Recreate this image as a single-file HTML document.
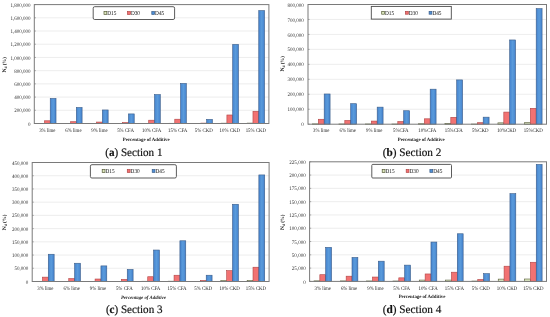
<!DOCTYPE html>
<html><head><meta charset="utf-8"><title>Nd charts</title>
<style>
html,body{margin:0;padding:0;background:#fff;}
body{width:550px;height:317px;overflow:hidden;}
svg{display:block;}
text{font-family:'Liberation Serif', 'Times New Roman', serif;fill:#1a1a1a;text-rendering:geometricPrecision;}
.yl{font-size:5.3px;text-anchor:end;fill:#333;}
.xl{font-size:5.4px;text-anchor:middle;fill:#222;}
.at{font-size:4.85px;font-weight:bold;text-anchor:middle;}
.ati{font-style:italic;}
.yt{font-size:5.6px;font-weight:bold;text-anchor:middle;}
.sub{font-size:3.6px;}
.pc{font-size:5.0px;}
.lg{font-size:6px;fill:#111;}
.cap{font-size:11.4px;fill:#111;stroke:#111;stroke-width:0.18px;}
</style></head>
<body>
<svg width="550" height="317" viewBox="0 0 550 317">
<defs><linearGradient id="gb" x1="0" y1="0" x2="1" y2="0"><stop offset="0" stop-color="#4583cf"/><stop offset="0.5" stop-color="#5a9bdb"/><stop offset="1" stop-color="#4583cf"/></linearGradient></defs>
<rect width="550" height="317" fill="#fff"/>
<line x1="34.3" y1="110.29" x2="268.9" y2="110.29" stroke="#e0e0e0" stroke-width="0.6"/>
<line x1="34.3" y1="97.08" x2="268.9" y2="97.08" stroke="#e0e0e0" stroke-width="0.6"/>
<line x1="34.3" y1="83.87" x2="268.9" y2="83.87" stroke="#e0e0e0" stroke-width="0.6"/>
<line x1="34.3" y1="70.66" x2="268.9" y2="70.66" stroke="#e0e0e0" stroke-width="0.6"/>
<line x1="34.3" y1="57.44" x2="268.9" y2="57.44" stroke="#e0e0e0" stroke-width="0.6"/>
<line x1="34.3" y1="44.23" x2="268.9" y2="44.23" stroke="#e0e0e0" stroke-width="0.6"/>
<line x1="34.3" y1="31.02" x2="268.9" y2="31.02" stroke="#e0e0e0" stroke-width="0.6"/>
<line x1="34.3" y1="17.81" x2="268.9" y2="17.81" stroke="#e0e0e0" stroke-width="0.6"/>
<rect x="38.64" y="123.33" width="5.79" height="0.17" fill="#dde8c0" stroke="#555a35" stroke-width="0.6"/>
<rect x="44.44" y="120.79" width="5.79" height="2.71" fill="#f27272" stroke="#b04444" stroke-width="0.6"/>
<rect x="50.23" y="98.46" width="5.79" height="25.04" fill="url(#gb)" stroke="#3a5c88" stroke-width="0.6"/>
<rect x="64.71" y="123.37" width="5.79" height="0.13" fill="#dde8c0" stroke="#555a35" stroke-width="0.6"/>
<rect x="70.5" y="121.72" width="5.79" height="1.78" fill="#f27272" stroke="#b04444" stroke-width="0.6"/>
<rect x="76.3" y="107.51" width="5.79" height="15.99" fill="url(#gb)" stroke="#3a5c88" stroke-width="0.6"/>
<rect x="90.78" y="123.37" width="5.79" height="0.13" fill="#dde8c0" stroke="#555a35" stroke-width="0.6"/>
<rect x="96.57" y="122.05" width="5.79" height="1.45" fill="#f27272" stroke="#b04444" stroke-width="0.6"/>
<rect x="102.36" y="109.96" width="5.79" height="13.54" fill="url(#gb)" stroke="#3a5c88" stroke-width="0.6"/>
<rect x="116.84" y="123.4" width="5.79" height="0.1" fill="#dde8c0" stroke="#555a35" stroke-width="0.6"/>
<rect x="122.64" y="122.51" width="5.79" height="0.99" fill="#f27272" stroke="#b04444" stroke-width="0.6"/>
<rect x="128.43" y="113.92" width="5.79" height="9.58" fill="url(#gb)" stroke="#3a5c88" stroke-width="0.6"/>
<rect x="142.91" y="123.3" width="5.79" height="0.2" fill="#dde8c0" stroke="#555a35" stroke-width="0.6"/>
<rect x="148.7" y="120.2" width="5.79" height="3.3" fill="#f27272" stroke="#b04444" stroke-width="0.6"/>
<rect x="154.5" y="94.57" width="5.79" height="28.93" fill="url(#gb)" stroke="#3a5c88" stroke-width="0.6"/>
<rect x="168.98" y="123.27" width="5.79" height="0.23" fill="#dde8c0" stroke="#555a35" stroke-width="0.6"/>
<rect x="174.77" y="119.21" width="5.79" height="4.29" fill="#f27272" stroke="#b04444" stroke-width="0.6"/>
<rect x="180.56" y="83.47" width="5.79" height="40.03" fill="url(#gb)" stroke="#3a5c88" stroke-width="0.6"/>
<rect x="195.04" y="123.45" width="5.79" height="0.05" fill="#dde8c0" stroke="#555a35" stroke-width="0.6"/>
<rect x="200.84" y="123.1" width="5.79" height="0.4" fill="#f27272" stroke="#b04444" stroke-width="0.6"/>
<rect x="206.63" y="119.4" width="5.79" height="4.1" fill="url(#gb)" stroke="#3a5c88" stroke-width="0.6"/>
<rect x="221.11" y="123.17" width="5.79" height="0.33" fill="#dde8c0" stroke="#555a35" stroke-width="0.6"/>
<rect x="226.9" y="114.98" width="5.79" height="8.52" fill="#f27272" stroke="#b04444" stroke-width="0.6"/>
<rect x="232.7" y="44.43" width="5.79" height="79.07" fill="url(#gb)" stroke="#3a5c88" stroke-width="0.6"/>
<rect x="247.18" y="123.1" width="5.79" height="0.4" fill="#dde8c0" stroke="#555a35" stroke-width="0.6"/>
<rect x="252.97" y="111.28" width="5.79" height="12.22" fill="#f27272" stroke="#b04444" stroke-width="0.6"/>
<rect x="258.76" y="10.61" width="5.79" height="112.89" fill="url(#gb)" stroke="#3a5c88" stroke-width="0.6"/>
<rect x="34.3" y="4.6" width="234.6" height="118.9" fill="none" stroke="#7a7a7a" stroke-width="1.0"/>
<line x1="34.3" y1="123.5" x2="35.9" y2="123.5" stroke="#7a7a7a" stroke-width="0.6"/>
<line x1="34.3" y1="110.29" x2="35.9" y2="110.29" stroke="#7a7a7a" stroke-width="0.6"/>
<line x1="34.3" y1="97.08" x2="35.9" y2="97.08" stroke="#7a7a7a" stroke-width="0.6"/>
<line x1="34.3" y1="83.87" x2="35.9" y2="83.87" stroke="#7a7a7a" stroke-width="0.6"/>
<line x1="34.3" y1="70.66" x2="35.9" y2="70.66" stroke="#7a7a7a" stroke-width="0.6"/>
<line x1="34.3" y1="57.44" x2="35.9" y2="57.44" stroke="#7a7a7a" stroke-width="0.6"/>
<line x1="34.3" y1="44.23" x2="35.9" y2="44.23" stroke="#7a7a7a" stroke-width="0.6"/>
<line x1="34.3" y1="31.02" x2="35.9" y2="31.02" stroke="#7a7a7a" stroke-width="0.6"/>
<line x1="34.3" y1="17.81" x2="35.9" y2="17.81" stroke="#7a7a7a" stroke-width="0.6"/>
<line x1="34.3" y1="4.6" x2="35.9" y2="4.6" stroke="#7a7a7a" stroke-width="0.6"/>
<text transform="translate(30.6,125.6) scale(0.95,1)" class="yl">0</text>
<text transform="translate(30.6,112.39) scale(0.95,1)" class="yl">200,000</text>
<text transform="translate(30.6,99.18) scale(0.95,1)" class="yl">400,000</text>
<text transform="translate(30.6,85.97) scale(0.95,1)" class="yl">600,000</text>
<text transform="translate(30.6,72.76) scale(0.95,1)" class="yl">800,000</text>
<text transform="translate(30.6,59.54) scale(0.95,1)" class="yl">1,000,000</text>
<text transform="translate(30.6,46.33) scale(0.95,1)" class="yl">1,200,000</text>
<text transform="translate(30.6,33.12) scale(0.95,1)" class="yl">1,400,000</text>
<text transform="translate(30.6,19.91) scale(0.95,1)" class="yl">1,600,000</text>
<text transform="translate(30.6,6.7) scale(0.95,1)" class="yl">1,800,000</text>
<text transform="translate(47.33,132.3) scale(0.9,1)" class="xl">3% lime</text>
<text transform="translate(73.4,132.3) scale(0.9,1)" class="xl">6% lime</text>
<text transform="translate(99.47,132.3) scale(0.9,1)" class="xl">9% lime</text>
<text transform="translate(125.53,132.3) scale(0.9,1)" class="xl">5% CFA</text>
<text transform="translate(151.6,132.3) scale(0.9,1)" class="xl">10% CFA</text>
<text transform="translate(177.67,132.3) scale(0.9,1)" class="xl">15% CFA</text>
<text transform="translate(203.73,132.3) scale(0.9,1)" class="xl">5% CKD</text>
<text transform="translate(229.8,132.3) scale(0.9,1)" class="xl">10% CKD</text>
<text transform="translate(255.87,132.3) scale(0.9,1)" class="xl">15% CKD</text>
<text x="146.2" y="141" class="at">Percentage of Additive</text>
<text transform="translate(6.1,64.8) rotate(-90)" class="yt">N<tspan class="sub" dy="1.2">d</tspan><tspan dy="-1.2" class="pc"> (%)</tspan></text>
<rect x="93.2" y="6.7" width="81.4" height="12.8" rx="1.5" fill="#fff" stroke="#4a4a4a" stroke-width="0.9"/>
<rect x="104" y="11.6" width="2.8" height="2.8" fill="#dde8c0" stroke="#555a35" stroke-width="0.7"/>
<text transform="translate(107.3,15.1) scale(0.88,1)" class="lg">D15</text>
<rect x="127.6" y="11.6" width="2.8" height="2.8" fill="#f27272" stroke="#b04444" stroke-width="0.7"/>
<text transform="translate(130.9,15.1) scale(0.88,1)" class="lg">D30</text>
<rect x="151.8" y="11.6" width="2.8" height="2.8" fill="#4f90d6" stroke="#3a5c88" stroke-width="0.7"/>
<text transform="translate(155.1,15.1) scale(0.88,1)" class="lg">D45</text>
<text x="105.2" y="155.6" class="cap" textLength="57.3" lengthAdjust="spacingAndGlyphs">(<tspan font-weight="bold">a</tspan>) Section 1</text>
<line x1="308" y1="109.24" x2="546.5" y2="109.24" stroke="#e0e0e0" stroke-width="0.6"/>
<line x1="308" y1="94.28" x2="546.5" y2="94.28" stroke="#e0e0e0" stroke-width="0.6"/>
<line x1="308" y1="79.31" x2="546.5" y2="79.31" stroke="#e0e0e0" stroke-width="0.6"/>
<line x1="308" y1="64.35" x2="546.5" y2="64.35" stroke="#e0e0e0" stroke-width="0.6"/>
<line x1="308" y1="49.39" x2="546.5" y2="49.39" stroke="#e0e0e0" stroke-width="0.6"/>
<line x1="308" y1="34.43" x2="546.5" y2="34.43" stroke="#e0e0e0" stroke-width="0.6"/>
<line x1="308" y1="19.46" x2="546.5" y2="19.46" stroke="#e0e0e0" stroke-width="0.6"/>
<rect x="312.42" y="123.9" width="5.89" height="0.3" fill="#dde8c0" stroke="#555a35" stroke-width="0.6"/>
<rect x="318.31" y="119.26" width="5.89" height="4.94" fill="#f27272" stroke="#b04444" stroke-width="0.6"/>
<rect x="324.19" y="93.98" width="5.89" height="30.22" fill="url(#gb)" stroke="#3a5c88" stroke-width="0.6"/>
<rect x="338.92" y="123.98" width="5.89" height="0.22" fill="#dde8c0" stroke="#555a35" stroke-width="0.6"/>
<rect x="344.81" y="120.46" width="5.89" height="3.74" fill="#f27272" stroke="#b04444" stroke-width="0.6"/>
<rect x="350.69" y="103.7" width="5.89" height="20.5" fill="url(#gb)" stroke="#3a5c88" stroke-width="0.6"/>
<rect x="365.42" y="123.98" width="5.89" height="0.22" fill="#dde8c0" stroke="#555a35" stroke-width="0.6"/>
<rect x="371.31" y="121.06" width="5.89" height="3.14" fill="#f27272" stroke="#b04444" stroke-width="0.6"/>
<rect x="377.19" y="107.14" width="5.89" height="17.06" fill="url(#gb)" stroke="#3a5c88" stroke-width="0.6"/>
<rect x="391.92" y="124.02" width="5.89" height="0.18" fill="#dde8c0" stroke="#555a35" stroke-width="0.6"/>
<rect x="397.81" y="121.51" width="5.89" height="2.69" fill="#f27272" stroke="#b04444" stroke-width="0.6"/>
<rect x="403.69" y="110.73" width="5.89" height="13.47" fill="url(#gb)" stroke="#3a5c88" stroke-width="0.6"/>
<rect x="418.42" y="123.75" width="5.89" height="0.45" fill="#dde8c0" stroke="#555a35" stroke-width="0.6"/>
<rect x="424.31" y="118.81" width="5.89" height="5.39" fill="#f27272" stroke="#b04444" stroke-width="0.6"/>
<rect x="430.19" y="89.19" width="5.89" height="35.01" fill="url(#gb)" stroke="#3a5c88" stroke-width="0.6"/>
<rect x="444.92" y="123.68" width="5.89" height="0.52" fill="#dde8c0" stroke="#555a35" stroke-width="0.6"/>
<rect x="450.81" y="117.32" width="5.89" height="6.88" fill="#f27272" stroke="#b04444" stroke-width="0.6"/>
<rect x="456.69" y="79.91" width="5.89" height="44.29" fill="url(#gb)" stroke="#3a5c88" stroke-width="0.6"/>
<rect x="471.42" y="124.05" width="5.89" height="0.15" fill="#dde8c0" stroke="#555a35" stroke-width="0.6"/>
<rect x="477.31" y="122.7" width="5.89" height="1.5" fill="#f27272" stroke="#b04444" stroke-width="0.6"/>
<rect x="483.19" y="117.17" width="5.89" height="7.03" fill="url(#gb)" stroke="#3a5c88" stroke-width="0.6"/>
<rect x="497.92" y="122.85" width="5.89" height="1.35" fill="#dde8c0" stroke="#555a35" stroke-width="0.6"/>
<rect x="503.81" y="112.08" width="5.89" height="12.12" fill="#f27272" stroke="#b04444" stroke-width="0.6"/>
<rect x="509.69" y="39.96" width="5.89" height="84.24" fill="url(#gb)" stroke="#3a5c88" stroke-width="0.6"/>
<rect x="524.42" y="122.7" width="5.89" height="1.5" fill="#dde8c0" stroke="#555a35" stroke-width="0.6"/>
<rect x="530.31" y="108.34" width="5.89" height="15.86" fill="#f27272" stroke="#b04444" stroke-width="0.6"/>
<rect x="536.19" y="8.69" width="5.89" height="115.51" fill="url(#gb)" stroke="#3a5c88" stroke-width="0.6"/>
<rect x="308" y="4.5" width="238.5" height="119.7" fill="none" stroke="#7a7a7a" stroke-width="1.0"/>
<line x1="308" y1="124.2" x2="309.6" y2="124.2" stroke="#7a7a7a" stroke-width="0.6"/>
<line x1="308" y1="109.24" x2="309.6" y2="109.24" stroke="#7a7a7a" stroke-width="0.6"/>
<line x1="308" y1="94.28" x2="309.6" y2="94.28" stroke="#7a7a7a" stroke-width="0.6"/>
<line x1="308" y1="79.31" x2="309.6" y2="79.31" stroke="#7a7a7a" stroke-width="0.6"/>
<line x1="308" y1="64.35" x2="309.6" y2="64.35" stroke="#7a7a7a" stroke-width="0.6"/>
<line x1="308" y1="49.39" x2="309.6" y2="49.39" stroke="#7a7a7a" stroke-width="0.6"/>
<line x1="308" y1="34.43" x2="309.6" y2="34.43" stroke="#7a7a7a" stroke-width="0.6"/>
<line x1="308" y1="19.46" x2="309.6" y2="19.46" stroke="#7a7a7a" stroke-width="0.6"/>
<line x1="308" y1="4.5" x2="309.6" y2="4.5" stroke="#7a7a7a" stroke-width="0.6"/>
<text transform="translate(303.8,126.3) scale(0.95,1)" class="yl">0</text>
<text transform="translate(303.8,111.34) scale(0.95,1)" class="yl">100,000</text>
<text transform="translate(303.8,96.38) scale(0.95,1)" class="yl">200,000</text>
<text transform="translate(303.8,81.41) scale(0.95,1)" class="yl">300,000</text>
<text transform="translate(303.8,66.45) scale(0.95,1)" class="yl">400,000</text>
<text transform="translate(303.8,51.49) scale(0.95,1)" class="yl">500,000</text>
<text transform="translate(303.8,36.53) scale(0.95,1)" class="yl">600,000</text>
<text transform="translate(303.8,21.56) scale(0.95,1)" class="yl">700,000</text>
<text transform="translate(303.8,6.6) scale(0.95,1)" class="yl">800,000</text>
<text transform="translate(321.25,131.7) scale(0.9,1)" class="xl">3% lime</text>
<text transform="translate(347.75,131.7) scale(0.9,1)" class="xl">6% lime</text>
<text transform="translate(374.25,131.7) scale(0.9,1)" class="xl">9% lime</text>
<text transform="translate(400.75,131.7) scale(0.9,1)" class="xl">5%CFA</text>
<text transform="translate(427.25,131.7) scale(0.9,1)" class="xl">10%CFA</text>
<text transform="translate(453.75,131.7) scale(0.9,1)" class="xl">15%CFA</text>
<text transform="translate(480.25,131.7) scale(0.9,1)" class="xl">5%CKD</text>
<text transform="translate(506.75,131.7) scale(0.9,1)" class="xl">10%CKD</text>
<text transform="translate(533.25,131.7) scale(0.9,1)" class="xl">15%CKD</text>
<text x="421.2" y="141.3" class="at">Percentage of Additive</text>
<text transform="translate(283.9,63.8) rotate(-90)" class="yt">N<tspan class="sub" dy="1.2">d</tspan><tspan dy="-1.2" class="pc"> (%)</tspan></text>
<rect x="371.3" y="6.4" width="80" height="12.7" rx="0" fill="#fff" stroke="#4a4a4a" stroke-width="0.9"/>
<rect x="381.7" y="11.4" width="2.8" height="2.8" fill="#dde8c0" stroke="#555a35" stroke-width="0.7"/>
<text transform="translate(385,14.9) scale(0.88,1)" class="lg">D15</text>
<rect x="405.5" y="11.4" width="2.8" height="2.8" fill="#f27272" stroke="#b04444" stroke-width="0.7"/>
<text transform="translate(408.8,14.9) scale(0.88,1)" class="lg">D30</text>
<rect x="429.1" y="11.4" width="2.8" height="2.8" fill="#4f90d6" stroke="#3a5c88" stroke-width="0.7"/>
<text transform="translate(432.4,14.9) scale(0.88,1)" class="lg">D45</text>
<text x="382.8" y="155.7" class="cap" textLength="58.6" lengthAdjust="spacingAndGlyphs">(<tspan font-weight="bold">b</tspan>) Section 2</text>
<line x1="32.2" y1="268.28" x2="269.1" y2="268.28" stroke="#e0e0e0" stroke-width="0.6"/>
<line x1="32.2" y1="255.06" x2="269.1" y2="255.06" stroke="#e0e0e0" stroke-width="0.6"/>
<line x1="32.2" y1="241.83" x2="269.1" y2="241.83" stroke="#e0e0e0" stroke-width="0.6"/>
<line x1="32.2" y1="228.61" x2="269.1" y2="228.61" stroke="#e0e0e0" stroke-width="0.6"/>
<line x1="32.2" y1="215.39" x2="269.1" y2="215.39" stroke="#e0e0e0" stroke-width="0.6"/>
<line x1="32.2" y1="202.17" x2="269.1" y2="202.17" stroke="#e0e0e0" stroke-width="0.6"/>
<line x1="32.2" y1="188.94" x2="269.1" y2="188.94" stroke="#e0e0e0" stroke-width="0.6"/>
<line x1="32.2" y1="175.72" x2="269.1" y2="175.72" stroke="#e0e0e0" stroke-width="0.6"/>
<rect x="36.59" y="281.29" width="5.85" height="0.21" fill="#dde8c0" stroke="#555a35" stroke-width="0.6"/>
<rect x="42.44" y="277.14" width="5.85" height="4.36" fill="#f27272" stroke="#b04444" stroke-width="0.6"/>
<rect x="48.29" y="254.26" width="5.85" height="27.24" fill="url(#gb)" stroke="#3a5c88" stroke-width="0.6"/>
<rect x="62.91" y="281.34" width="5.85" height="0.16" fill="#dde8c0" stroke="#555a35" stroke-width="0.6"/>
<rect x="68.76" y="278.59" width="5.85" height="2.91" fill="#f27272" stroke="#b04444" stroke-width="0.6"/>
<rect x="74.61" y="263.25" width="5.85" height="18.25" fill="url(#gb)" stroke="#3a5c88" stroke-width="0.6"/>
<rect x="89.23" y="281.34" width="5.85" height="0.16" fill="#dde8c0" stroke="#555a35" stroke-width="0.6"/>
<rect x="95.08" y="279.01" width="5.85" height="2.49" fill="#f27272" stroke="#b04444" stroke-width="0.6"/>
<rect x="100.93" y="265.9" width="5.85" height="15.6" fill="url(#gb)" stroke="#3a5c88" stroke-width="0.6"/>
<rect x="115.55" y="281.37" width="5.85" height="0.13" fill="#dde8c0" stroke="#555a35" stroke-width="0.6"/>
<rect x="121.4" y="279.38" width="5.85" height="2.12" fill="#f27272" stroke="#b04444" stroke-width="0.6"/>
<rect x="127.25" y="269.47" width="5.85" height="12.03" fill="url(#gb)" stroke="#3a5c88" stroke-width="0.6"/>
<rect x="141.88" y="281.24" width="5.85" height="0.26" fill="#dde8c0" stroke="#555a35" stroke-width="0.6"/>
<rect x="147.73" y="276.74" width="5.85" height="4.76" fill="#f27272" stroke="#b04444" stroke-width="0.6"/>
<rect x="153.57" y="250.03" width="5.85" height="31.47" fill="url(#gb)" stroke="#3a5c88" stroke-width="0.6"/>
<rect x="168.2" y="281.18" width="5.85" height="0.32" fill="#dde8c0" stroke="#555a35" stroke-width="0.6"/>
<rect x="174.05" y="275.23" width="5.85" height="6.27" fill="#f27272" stroke="#b04444" stroke-width="0.6"/>
<rect x="179.9" y="240.78" width="5.85" height="40.72" fill="url(#gb)" stroke="#3a5c88" stroke-width="0.6"/>
<rect x="194.52" y="281.39" width="5.85" height="0.11" fill="#dde8c0" stroke="#555a35" stroke-width="0.6"/>
<rect x="200.37" y="280.44" width="5.85" height="1.06" fill="#f27272" stroke="#b04444" stroke-width="0.6"/>
<rect x="206.22" y="275.23" width="5.85" height="6.27" fill="url(#gb)" stroke="#3a5c88" stroke-width="0.6"/>
<rect x="220.84" y="280.57" width="5.85" height="0.93" fill="#dde8c0" stroke="#555a35" stroke-width="0.6"/>
<rect x="226.69" y="270.66" width="5.85" height="10.84" fill="#f27272" stroke="#b04444" stroke-width="0.6"/>
<rect x="232.54" y="204.28" width="5.85" height="77.22" fill="url(#gb)" stroke="#3a5c88" stroke-width="0.6"/>
<rect x="247.16" y="280.44" width="5.85" height="1.06" fill="#dde8c0" stroke="#555a35" stroke-width="0.6"/>
<rect x="253.01" y="267.22" width="5.85" height="14.28" fill="#f27272" stroke="#b04444" stroke-width="0.6"/>
<rect x="258.86" y="174.93" width="5.85" height="106.57" fill="url(#gb)" stroke="#3a5c88" stroke-width="0.6"/>
<rect x="32.2" y="162.5" width="236.9" height="119" fill="none" stroke="#7a7a7a" stroke-width="1.0"/>
<line x1="32.2" y1="281.5" x2="33.8" y2="281.5" stroke="#7a7a7a" stroke-width="0.6"/>
<line x1="32.2" y1="268.28" x2="33.8" y2="268.28" stroke="#7a7a7a" stroke-width="0.6"/>
<line x1="32.2" y1="255.06" x2="33.8" y2="255.06" stroke="#7a7a7a" stroke-width="0.6"/>
<line x1="32.2" y1="241.83" x2="33.8" y2="241.83" stroke="#7a7a7a" stroke-width="0.6"/>
<line x1="32.2" y1="228.61" x2="33.8" y2="228.61" stroke="#7a7a7a" stroke-width="0.6"/>
<line x1="32.2" y1="215.39" x2="33.8" y2="215.39" stroke="#7a7a7a" stroke-width="0.6"/>
<line x1="32.2" y1="202.17" x2="33.8" y2="202.17" stroke="#7a7a7a" stroke-width="0.6"/>
<line x1="32.2" y1="188.94" x2="33.8" y2="188.94" stroke="#7a7a7a" stroke-width="0.6"/>
<line x1="32.2" y1="175.72" x2="33.8" y2="175.72" stroke="#7a7a7a" stroke-width="0.6"/>
<line x1="32.2" y1="162.5" x2="33.8" y2="162.5" stroke="#7a7a7a" stroke-width="0.6"/>
<text transform="translate(28.3,283.6) scale(0.95,1)" class="yl">0</text>
<text transform="translate(28.3,270.38) scale(0.95,1)" class="yl">50,000</text>
<text transform="translate(28.3,257.16) scale(0.95,1)" class="yl">100,000</text>
<text transform="translate(28.3,243.93) scale(0.95,1)" class="yl">150,000</text>
<text transform="translate(28.3,230.71) scale(0.95,1)" class="yl">200,000</text>
<text transform="translate(28.3,217.49) scale(0.95,1)" class="yl">250,000</text>
<text transform="translate(28.3,204.27) scale(0.95,1)" class="yl">300,000</text>
<text transform="translate(28.3,191.04) scale(0.95,1)" class="yl">350,000</text>
<text transform="translate(28.3,177.82) scale(0.95,1)" class="yl">400,000</text>
<text transform="translate(28.3,164.6) scale(0.95,1)" class="yl">450,000</text>
<text transform="translate(45.36,290) scale(0.9,1)" class="xl">3% lime</text>
<text transform="translate(71.68,290) scale(0.9,1)" class="xl">6% lime</text>
<text transform="translate(98.01,290) scale(0.9,1)" class="xl">9% lime</text>
<text transform="translate(124.33,290) scale(0.9,1)" class="xl">5% CFA</text>
<text transform="translate(150.65,290) scale(0.9,1)" class="xl">10% CFA</text>
<text transform="translate(176.97,290) scale(0.9,1)" class="xl">15% CFA</text>
<text transform="translate(203.29,290) scale(0.9,1)" class="xl">5% CKD</text>
<text transform="translate(229.62,290) scale(0.9,1)" class="xl">10% CKD</text>
<text transform="translate(255.94,290) scale(0.9,1)" class="xl">15% CKD</text>
<text x="143.4" y="298.6" class="at ati">Percentage of Additive</text>
<text transform="translate(6.1,222.4) rotate(-90)" class="yt">N<tspan class="sub" dy="1.2">d</tspan><tspan dy="-1.2" class="pc"> (%)</tspan></text>
<rect x="90.4" y="164.7" width="86" height="13.3" rx="1.5" fill="#fff" stroke="#4a4a4a" stroke-width="0.9"/>
<rect x="102.2" y="169.6" width="2.8" height="2.8" fill="#dde8c0" stroke="#555a35" stroke-width="0.7"/>
<text transform="translate(105.5,173.1) scale(0.88,1)" class="lg">D15</text>
<rect x="127.3" y="169.6" width="2.8" height="2.8" fill="#f27272" stroke="#b04444" stroke-width="0.7"/>
<text transform="translate(130.6,173.1) scale(0.88,1)" class="lg">D30</text>
<rect x="152.2" y="169.6" width="2.8" height="2.8" fill="#4f90d6" stroke="#3a5c88" stroke-width="0.7"/>
<text transform="translate(155.5,173.1) scale(0.88,1)" class="lg">D45</text>
<text x="105.9" y="313.3" class="cap" textLength="56.6" lengthAdjust="spacingAndGlyphs">(<tspan font-weight="bold">c</tspan>) Section 3</text>
<line x1="309.6" y1="268.11" x2="546.5" y2="268.11" stroke="#e0e0e0" stroke-width="0.6"/>
<line x1="309.6" y1="254.82" x2="546.5" y2="254.82" stroke="#e0e0e0" stroke-width="0.6"/>
<line x1="309.6" y1="241.53" x2="546.5" y2="241.53" stroke="#e0e0e0" stroke-width="0.6"/>
<line x1="309.6" y1="228.24" x2="546.5" y2="228.24" stroke="#e0e0e0" stroke-width="0.6"/>
<line x1="309.6" y1="214.96" x2="546.5" y2="214.96" stroke="#e0e0e0" stroke-width="0.6"/>
<line x1="309.6" y1="201.67" x2="546.5" y2="201.67" stroke="#e0e0e0" stroke-width="0.6"/>
<line x1="309.6" y1="188.38" x2="546.5" y2="188.38" stroke="#e0e0e0" stroke-width="0.6"/>
<line x1="309.6" y1="175.09" x2="546.5" y2="175.09" stroke="#e0e0e0" stroke-width="0.6"/>
<rect x="313.99" y="280.87" width="5.85" height="0.53" fill="#dde8c0" stroke="#555a35" stroke-width="0.6"/>
<rect x="319.84" y="274.7" width="5.85" height="6.7" fill="#f27272" stroke="#b04444" stroke-width="0.6"/>
<rect x="325.69" y="247.38" width="5.85" height="34.02" fill="url(#gb)" stroke="#3a5c88" stroke-width="0.6"/>
<rect x="340.31" y="280.92" width="5.85" height="0.48" fill="#dde8c0" stroke="#555a35" stroke-width="0.6"/>
<rect x="346.16" y="276.19" width="5.85" height="5.21" fill="#f27272" stroke="#b04444" stroke-width="0.6"/>
<rect x="352.01" y="257.48" width="5.85" height="23.92" fill="url(#gb)" stroke="#3a5c88" stroke-width="0.6"/>
<rect x="366.63" y="280.97" width="5.85" height="0.43" fill="#dde8c0" stroke="#555a35" stroke-width="0.6"/>
<rect x="372.48" y="277.04" width="5.85" height="4.36" fill="#f27272" stroke="#b04444" stroke-width="0.6"/>
<rect x="378.33" y="261.2" width="5.85" height="20.2" fill="url(#gb)" stroke="#3a5c88" stroke-width="0.6"/>
<rect x="392.95" y="281.03" width="5.85" height="0.37" fill="#dde8c0" stroke="#555a35" stroke-width="0.6"/>
<rect x="398.8" y="277.84" width="5.85" height="3.56" fill="#f27272" stroke="#b04444" stroke-width="0.6"/>
<rect x="404.65" y="265.13" width="5.85" height="16.27" fill="url(#gb)" stroke="#3a5c88" stroke-width="0.6"/>
<rect x="419.28" y="280.07" width="5.85" height="1.33" fill="#dde8c0" stroke="#555a35" stroke-width="0.6"/>
<rect x="425.13" y="273.96" width="5.85" height="7.44" fill="#f27272" stroke="#b04444" stroke-width="0.6"/>
<rect x="430.97" y="242.06" width="5.85" height="39.34" fill="url(#gb)" stroke="#3a5c88" stroke-width="0.6"/>
<rect x="445.6" y="280.07" width="5.85" height="1.33" fill="#dde8c0" stroke="#555a35" stroke-width="0.6"/>
<rect x="451.45" y="272.2" width="5.85" height="9.2" fill="#f27272" stroke="#b04444" stroke-width="0.6"/>
<rect x="457.3" y="233.77" width="5.85" height="47.63" fill="url(#gb)" stroke="#3a5c88" stroke-width="0.6"/>
<rect x="471.92" y="281.08" width="5.85" height="0.32" fill="#dde8c0" stroke="#555a35" stroke-width="0.6"/>
<rect x="477.77" y="279.49" width="5.85" height="1.91" fill="#f27272" stroke="#b04444" stroke-width="0.6"/>
<rect x="483.62" y="273.69" width="5.85" height="7.71" fill="url(#gb)" stroke="#3a5c88" stroke-width="0.6"/>
<rect x="498.24" y="279.11" width="5.85" height="2.29" fill="#dde8c0" stroke="#555a35" stroke-width="0.6"/>
<rect x="504.09" y="266.2" width="5.85" height="15.2" fill="#f27272" stroke="#b04444" stroke-width="0.6"/>
<rect x="509.94" y="193.69" width="5.85" height="87.71" fill="url(#gb)" stroke="#3a5c88" stroke-width="0.6"/>
<rect x="524.56" y="279.01" width="5.85" height="2.39" fill="#dde8c0" stroke="#555a35" stroke-width="0.6"/>
<rect x="530.41" y="262.26" width="5.85" height="19.14" fill="#f27272" stroke="#b04444" stroke-width="0.6"/>
<rect x="536.26" y="164.46" width="5.85" height="116.94" fill="url(#gb)" stroke="#3a5c88" stroke-width="0.6"/>
<rect x="309.6" y="161.8" width="236.9" height="119.6" fill="none" stroke="#7a7a7a" stroke-width="1.0"/>
<line x1="309.6" y1="281.4" x2="311.2" y2="281.4" stroke="#7a7a7a" stroke-width="0.6"/>
<line x1="309.6" y1="268.11" x2="311.2" y2="268.11" stroke="#7a7a7a" stroke-width="0.6"/>
<line x1="309.6" y1="254.82" x2="311.2" y2="254.82" stroke="#7a7a7a" stroke-width="0.6"/>
<line x1="309.6" y1="241.53" x2="311.2" y2="241.53" stroke="#7a7a7a" stroke-width="0.6"/>
<line x1="309.6" y1="228.24" x2="311.2" y2="228.24" stroke="#7a7a7a" stroke-width="0.6"/>
<line x1="309.6" y1="214.96" x2="311.2" y2="214.96" stroke="#7a7a7a" stroke-width="0.6"/>
<line x1="309.6" y1="201.67" x2="311.2" y2="201.67" stroke="#7a7a7a" stroke-width="0.6"/>
<line x1="309.6" y1="188.38" x2="311.2" y2="188.38" stroke="#7a7a7a" stroke-width="0.6"/>
<line x1="309.6" y1="175.09" x2="311.2" y2="175.09" stroke="#7a7a7a" stroke-width="0.6"/>
<line x1="309.6" y1="161.8" x2="311.2" y2="161.8" stroke="#7a7a7a" stroke-width="0.6"/>
<text transform="translate(305.7,283.5) scale(0.95,1)" class="yl">0</text>
<text transform="translate(305.7,270.21) scale(0.95,1)" class="yl">25,000</text>
<text transform="translate(305.7,256.92) scale(0.95,1)" class="yl">50,000</text>
<text transform="translate(305.7,243.63) scale(0.95,1)" class="yl">75,000</text>
<text transform="translate(305.7,230.34) scale(0.95,1)" class="yl">100,000</text>
<text transform="translate(305.7,217.06) scale(0.95,1)" class="yl">125,000</text>
<text transform="translate(305.7,203.77) scale(0.95,1)" class="yl">150,000</text>
<text transform="translate(305.7,190.48) scale(0.95,1)" class="yl">175,000</text>
<text transform="translate(305.7,177.19) scale(0.95,1)" class="yl">200,000</text>
<text transform="translate(305.7,163.9) scale(0.95,1)" class="yl">225,000</text>
<text transform="translate(322.76,289.8) scale(0.9,1)" class="xl">3% lime</text>
<text transform="translate(349.08,289.8) scale(0.9,1)" class="xl">6% lime</text>
<text transform="translate(375.41,289.8) scale(0.9,1)" class="xl">9% lime</text>
<text transform="translate(401.73,289.8) scale(0.9,1)" class="xl">5% CFA</text>
<text transform="translate(428.05,289.8) scale(0.9,1)" class="xl">10% CFA</text>
<text transform="translate(454.37,289.8) scale(0.9,1)" class="xl">15% CFA</text>
<text transform="translate(480.69,289.8) scale(0.9,1)" class="xl">5% CKD</text>
<text transform="translate(507.02,289.8) scale(0.9,1)" class="xl">10% CKD</text>
<text transform="translate(533.34,289.8) scale(0.9,1)" class="xl">15% CKD</text>
<text x="422" y="298.2" class="at">Percentage of Additive</text>
<text transform="translate(283.6,222.3) rotate(-90)" class="yt">N<tspan class="sub" dy="1.2">d</tspan><tspan dy="-1.2" class="pc"> (%)</tspan></text>
<rect x="371.8" y="164.4" width="79.7" height="13.6" rx="1.0" fill="#fff" stroke="#4a4a4a" stroke-width="0.9"/>
<rect x="382.2" y="169.6" width="2.8" height="2.8" fill="#dde8c0" stroke="#555a35" stroke-width="0.7"/>
<text transform="translate(385.5,173.1) scale(0.88,1)" class="lg">D15</text>
<rect x="406.2" y="169.6" width="2.8" height="2.8" fill="#f27272" stroke="#b04444" stroke-width="0.7"/>
<text transform="translate(409.5,173.1) scale(0.88,1)" class="lg">D30</text>
<rect x="429.9" y="169.6" width="2.8" height="2.8" fill="#4f90d6" stroke="#3a5c88" stroke-width="0.7"/>
<text transform="translate(433.2,173.1) scale(0.88,1)" class="lg">D45</text>
<text x="382.8" y="313" class="cap" textLength="58.6" lengthAdjust="spacingAndGlyphs">(<tspan font-weight="bold">d</tspan>) Section 4</text>
</svg>
</body></html>
